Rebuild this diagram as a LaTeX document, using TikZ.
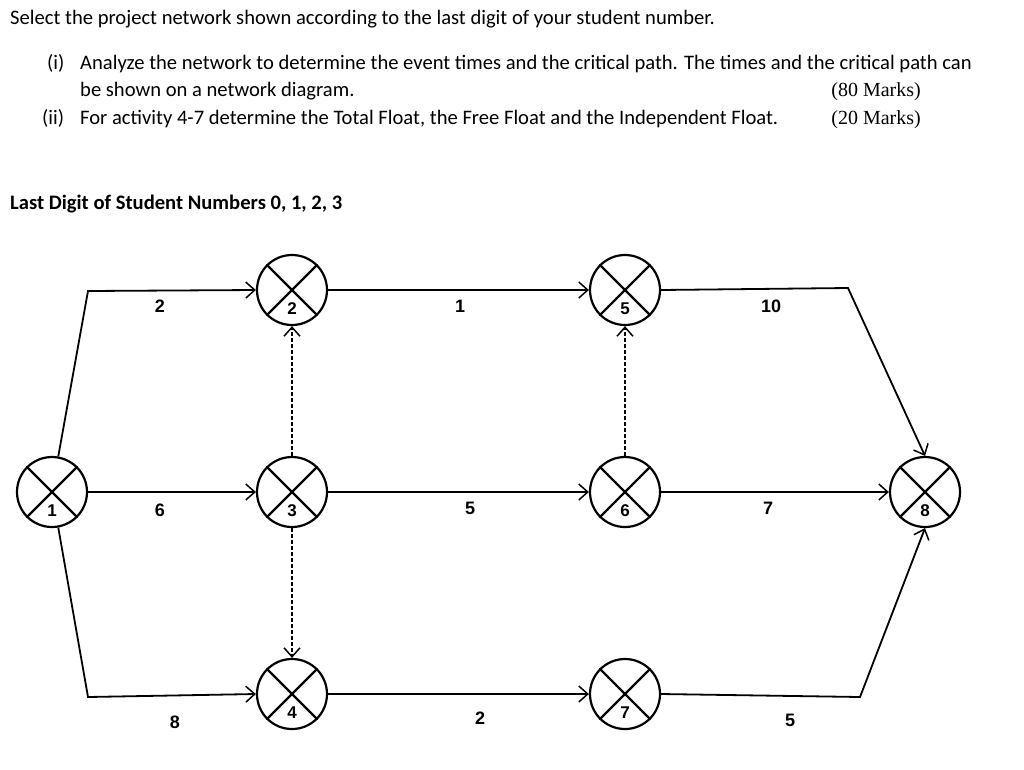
\documentclass[tikz,border=0pt]{standalone}
\usepackage{fontspec}
\setmainfont{Carlito}
\newfontfamily\arl{Liberation Sans}
\newfontfamily\srf{Liberation Serif}
\usetikzlibrary{arrows.meta}
\tikzset{
 ev/.style={circle,draw,line width=2.2pt,minimum size=70pt,inner sep=0},
 xl/.style={line width=2.2pt},
 num/.style={font=\arl\bfseries\fontsize{17}{17}\selectfont,inner sep=0},
 act/.style={line width=1.8pt,-{Straight Barb[length=9pt,width=16pt,line width=1.5pt]}},
 dum/.style={act,dash pattern=on 4pt off 2pt},
 lab/.style={font=\arl\bfseries\fontsize{18}{18}\selectfont},
 txt/.style={anchor=base west,inner sep=0,font=\fontsize{20.6}{20.6}\selectfont},
 mk/.style={anchor=base east,inner sep=0,font=\srf\fontsize{20}{20}\selectfont},
}
\newcommand\evnode[3]{%
 \node[ev] (#1) at (#2) {};
 \draw[xl] (#1.45)--(#1.225);
 \draw[xl] (#1.135)--(#1.-45);
 \node[num] (#1n) at ([yshift=-19pt]#1.center) {#3};}
\begin{document}
\begin{tikzpicture}[x=1pt,y=-1pt]
\useasboundingbox (0,0) rectangle (1024,769);
\node[txt] (t0) at (10,24) {Select the project network shown according to the last digit of your student number.};
\node[txt] (t1) at (47,69) {(i)};
\node[txt] (t1b) at (80,69) {Analyze the network to determine the event times and the critical path. The times and the critical path can};
\node[txt] (t2) at (80,96) {be shown on a network diagram.};
\node[mk] (m1) at (921,96) {(80 Marks)};
\node[txt] (t3) at (42,124) {(ii)};
\node[txt] (t3b) at (80,124) {For activity 4-7 determine the Total Float, the Free Float and the Independent Float.};
\node[mk] (m2) at (921,124) {(20 Marks)};
\node[txt,font=\bfseries\fontsize{20.6}{20.6}\selectfont] (t4) at (10,209) {Last Digit of Student Numbers 0, 1, 2, 3};

\evnode{n1}{52,492}{1}
\evnode{n2}{292,290}{2}
\evnode{n3}{292,492}{3}
\evnode{n4}{292,694}{4}
\evnode{n5}{625,290}{5}
\evnode{n6}{625,492}{6}
\evnode{n7}{625,694}{7}
\evnode{n8}{925,492}{8}

\coordinate (a) at (88,291);
\coordinate (b) at (88,697);
\coordinate (c) at (848,288);
\coordinate (d) at (860,697);
\draw[act] (n1.80) -- (a) -- (n2.west);
\draw[act] (n1.-80) -- (b) -- (n4.west);
\draw[act] (n1) -- (n3);
\draw[act] (n2) -- (n5);
\draw[act] (n3) -- (n6);
\draw[act] (n4) -- (n7);
\draw[act] (n6) -- (n8);
\draw[act] (n5.east) -- (c) -- (n8.north);
\draw[act] (n7.east) -- (d) -- (n8.south);
\draw[dum] (n3) -- (n2);
\draw[dum] (n3) -- (n4);
\draw[dum] (n6) -- (n5);

\node[lab] (l1) at (160,306) {2};
\node[lab] (l2) at (160,510) {6};
\node[lab] (l3) at (175,722) {8};
\node[lab] (l4) at (460,306) {1};
\node[lab] (l5) at (470,508) {5};
\node[lab] (l6) at (480,718) {2};
\node[lab] (l7) at (771,306) {10};
\node[lab] (l8) at (768,508) {7};
\node[lab] (l9) at (790,720) {5};
\end{tikzpicture}
\end{document}
